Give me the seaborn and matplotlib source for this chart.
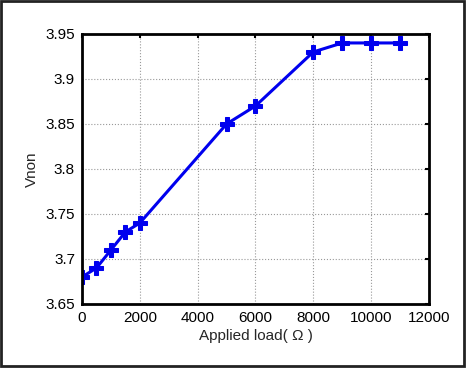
import matplotlib
matplotlib.use("Agg")
import matplotlib.pyplot as plt
import seaborn as sns
import pandas as pd
from matplotlib.patches import Rectangle

# valori
load = [0, 500, 1000, 1500, 2000, 5000, 6000, 8000, 9000, 10000, 11000]
vnon = [3.68, 3.69, 3.71, 3.73, 3.74, 3.85, 3.87, 3.93, 3.94, 3.94, 3.94]
x_ticks = [0, 2000, 4000, 6000, 8000, 10000, 12000]
y_ticks = [3.65, 3.7, 3.75, 3.8, 3.85, 3.9, 3.95]
y_labels = ["3.65", "3.7", "3.75", "3.8", "3.85", "3.9", "3.95"]

df = pd.DataFrame({"load": load, "vnon": vnon})

sns.set_style("white")
plt.rcParams["font.family"] = ["Liberation Sans", "DejaVu Sans"]

fig = plt.figure(figsize=(4.74, 3.88), dpi=100)
# chenarul exterior
fig.patches.append(Rectangle((0.002, 0.057), 0.977, 0.94, transform=fig.transFigure,
                             fill=False, edgecolor="#222222", linewidth=2))
ax = fig.add_axes([0.173, 0.2165, 0.732, 0.696])

sns.lineplot(data=df, x="load", y="vnon", ax=ax, color="#0000ee", linewidth=2.2,
             marker="P", markersize=10, markeredgecolor="#0000ee")

ax.set_xlim(0, 12000)
ax.set_ylim(3.65, 3.95)
ax.set_xticks(x_ticks)
ax.set_yticks(y_ticks)
ax.set_yticklabels(y_labels)
ax.grid(True, linestyle=":", color="#999999", linewidth=0.8)
ax.tick_params(direction="in", length=3, width=1.5, labelsize=11, top=True, right=True,
               colors="black", pad=5)
for s in ax.spines.values():
    s.set_linewidth(2)
    s.set_color("black")
ax.set_xlabel("Applied load( Ω )", fontsize=11, labelpad=3)
ax.set_ylabel("Vnon", fontsize=11, labelpad=5)

fig.savefig("out.png", dpi=100)
